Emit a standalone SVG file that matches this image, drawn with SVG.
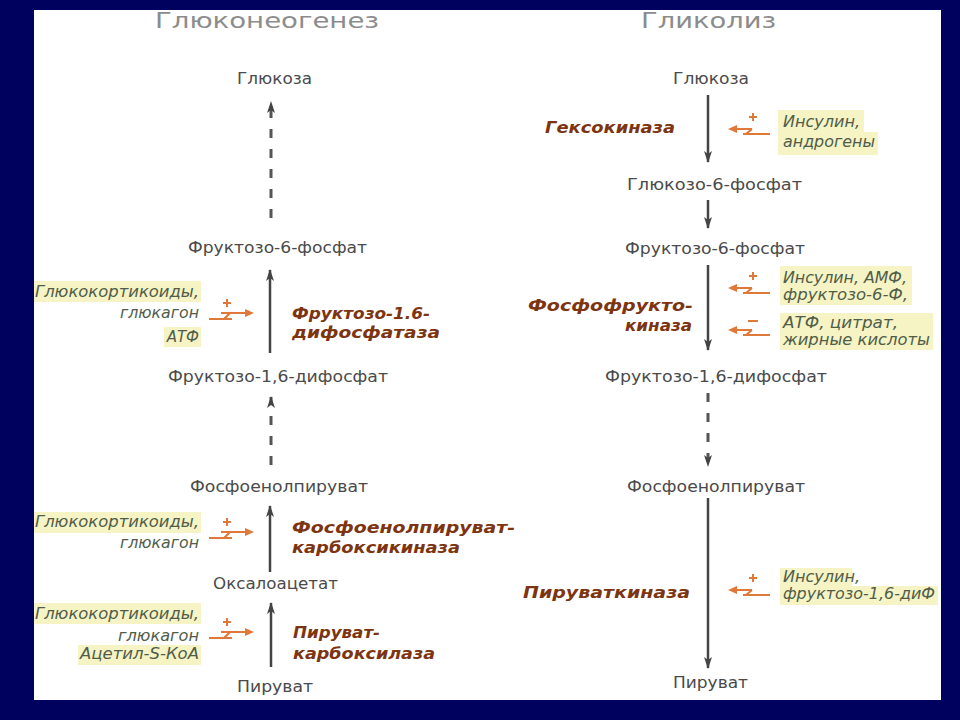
<svg xmlns="http://www.w3.org/2000/svg" width="960" height="720" viewBox="0 0 960 720">
<style>
.title{font-family:"DejaVu Sans","Liberation Sans",sans-serif;font-size:22px;fill:#8c8c8c}
.node{font-family:"DejaVu Sans","Liberation Sans",sans-serif;font-size:16px;fill:#4a4a4a}
.enz{font-family:"DejaVu Sans","Liberation Sans",sans-serif;font-size:16px;font-weight:bold;font-style:italic;fill:#7d3410}
.reg{font-family:"DejaVu Sans","Liberation Sans",sans-serif;font-size:15px;font-style:italic;fill:#4f5d4a}
.hl{fill:#f6f3c4}
.solid{stroke:#444;stroke-width:2.5;fill:none}
.dash{stroke:#555;stroke-width:3;fill:none;stroke-dasharray:9 11}
.sym{stroke:#e0783a;stroke-width:2;fill:none}
.symf{fill:#e0783a}
</style>
<defs>
<marker id="ah" viewBox="0 0 12 8" refX="11" refY="4" markerWidth="12" markerHeight="8" markerUnits="userSpaceOnUse" orient="auto">
<path d="M0,0 L12,4 L0,8 L3,4 z" fill="#444"/>
</marker>
<g id="actR">
<path class="sym" d="M0,16 H23 M15,16 L21,10 M12,10 H38 M14,0 H22 M18,-4 V4"/>
<path class="symf" d="M36,6 L45,10 L36,14 z"/>
</g>
<g id="actL">
<path class="sym" d="M7,0 H24 M24,0 L18,5 M15,5 H42 M21,-12 H29 M25,-16 V-8"/>
<path class="symf" d="M0,0 L9,-4 L9,4 z"/>
</g>
<g id="inhL">
<path class="sym" d="M7,0 H24 M24,0 L18,5 M15,5 H42 M20,-9 H30"/>
<path class="symf" d="M0,0 L9,-4 L9,4 z"/>
</g>
</defs>
<rect x="0" y="0" width="960" height="720" fill="#00005e"/>
<rect x="34" y="10" width="907" height="690" fill="#ffffff"/>

<g id="titles">
<text class="title" x="155" y="28" textLength="224" lengthAdjust="spacingAndGlyphs">Глюконеогенез</text>
<text class="title" x="641" y="28" textLength="135" lengthAdjust="spacingAndGlyphs">Гликолиз</text>
</g>

<g id="connectors">
<line class="dash" x1="271" y1="218" x2="271" y2="102" marker-end="url(#ah)"/>
<line class="solid" x1="270" y1="353" x2="270" y2="270" marker-end="url(#ah)"/>
<line class="dash" x1="271" y1="465" x2="271" y2="397" marker-end="url(#ah)"/>
<line class="solid" x1="270" y1="572" x2="270" y2="506" marker-end="url(#ah)"/>
<line class="solid" x1="271" y1="667" x2="271" y2="603" marker-end="url(#ah)"/>
<line class="solid" x1="708" y1="95" x2="708" y2="162" marker-end="url(#ah)"/>
<line class="solid" x1="708" y1="200" x2="708" y2="228" marker-end="url(#ah)"/>
<line class="solid" x1="708" y1="265" x2="708" y2="350" marker-end="url(#ah)"/>
<line class="dash" x1="708" y1="393" x2="708" y2="466" marker-end="url(#ah)"/>
<line class="solid" x1="708" y1="498" x2="708" y2="668" marker-end="url(#ah)"/>
</g>

<g id="gng-glucose"><text class="node" x="237" y="84" textLength="75" lengthAdjust="spacingAndGlyphs">Глюкоза</text></g>
<g id="gng-f6p"><text class="node" x="188" y="253" textLength="179" lengthAdjust="spacingAndGlyphs">Фруктозо-6-фосфат</text></g>
<g id="gng-f16bp"><text class="node" x="168" y="382" textLength="220" lengthAdjust="spacingAndGlyphs">Фруктозо-1,6-дифосфат</text></g>
<g id="gng-pep"><text class="node" x="190" y="492" textLength="178" lengthAdjust="spacingAndGlyphs">Фосфоенолпируват</text></g>
<g id="gng-oaa"><text class="node" x="213" y="589" textLength="125" lengthAdjust="spacingAndGlyphs">Оксалоацетат</text></g>
<g id="gng-pyr"><text class="node" x="237" y="692" textLength="76" lengthAdjust="spacingAndGlyphs">Пируват</text></g>

<g id="gly-glucose"><text class="node" x="673" y="84" textLength="76" lengthAdjust="spacingAndGlyphs">Глюкоза</text></g>
<g id="gly-g6p"><text class="node" x="627" y="190" textLength="175" lengthAdjust="spacingAndGlyphs">Глюкозо-6-фосфат</text></g>
<g id="gly-f6p"><text class="node" x="625" y="254" textLength="180" lengthAdjust="spacingAndGlyphs">Фруктозо-6-фосфат</text></g>
<g id="gly-f16bp"><text class="node" x="605" y="382" textLength="222" lengthAdjust="spacingAndGlyphs">Фруктозо-1,6-дифосфат</text></g>
<g id="gly-pep"><text class="node" x="627" y="492" textLength="178" lengthAdjust="spacingAndGlyphs">Фосфоенолпируват</text></g>
<g id="gly-pyr"><text class="node" x="673" y="688" textLength="75" lengthAdjust="spacingAndGlyphs">Пируват</text></g>

<g id="enz-fbpase">
<text class="enz" x="292" y="319" textLength="138" lengthAdjust="spacingAndGlyphs">Фруктозо-1.6-</text>
<text class="enz" x="292" y="338" textLength="148" lengthAdjust="spacingAndGlyphs">дифосфатаза</text>
</g>
<g id="enz-pepck">
<text class="enz" x="292" y="533" textLength="223" lengthAdjust="spacingAndGlyphs">Фосфоенолпируват-</text>
<text class="enz" x="292" y="553" textLength="168" lengthAdjust="spacingAndGlyphs">карбоксикиназа</text>
</g>
<g id="enz-pc">
<text class="enz" x="293" y="638" textLength="87" lengthAdjust="spacingAndGlyphs">Пируват-</text>
<text class="enz" x="293" y="659" textLength="142" lengthAdjust="spacingAndGlyphs">карбоксилаза</text>
</g>
<g id="enz-hk"><text class="enz" x="545" y="133" textLength="130" lengthAdjust="spacingAndGlyphs">Гексокиназа</text></g>
<g id="enz-pfk">
<text class="enz" x="528" y="311" textLength="165" lengthAdjust="spacingAndGlyphs">Фосфофрукто-</text>
<text class="enz" x="625" y="331" textLength="67" lengthAdjust="spacingAndGlyphs">киназа</text>
</g>
<g id="enz-pk"><text class="enz" x="523" y="598" textLength="167" lengthAdjust="spacingAndGlyphs">Пируваткиназа</text></g>

<g id="reg-fbpase">
<rect class="hl" x="34" y="281" width="167" height="21"/>
<rect class="hl" x="164" y="327" width="37" height="20"/>
<text class="reg" x="35" y="297" textLength="164" lengthAdjust="spacingAndGlyphs">Глюкокортикоиды,</text>
<text class="reg" x="120" y="318" textLength="79" lengthAdjust="spacingAndGlyphs">глюкагон</text>
<text class="reg" x="199" y="342" text-anchor="end">АТФ</text>
<use href="#actR" x="209" y="303"/>
</g>
<g id="reg-pepck">
<rect class="hl" x="34" y="512" width="167" height="21"/>
<text class="reg" x="35" y="527" textLength="164" lengthAdjust="spacingAndGlyphs">Глюкокортикоиды,</text>
<text class="reg" x="120" y="548" textLength="79" lengthAdjust="spacingAndGlyphs">глюкагон</text>
<use href="#actR" x="209" y="522"/>
</g>
<g id="reg-pc">
<rect class="hl" x="34" y="603" width="167" height="21"/>
<rect class="hl" x="78" y="645" width="123" height="20"/>
<text class="reg" x="35" y="619" textLength="164" lengthAdjust="spacingAndGlyphs">Глюкокортикоиды,</text>
<text class="reg" x="118" y="641" textLength="81" lengthAdjust="spacingAndGlyphs">глюкагон</text>
<text class="reg" x="80" y="659" textLength="119" lengthAdjust="spacingAndGlyphs">Ацетил-S-КоА</text>
<use href="#actR" x="209" y="622"/>
</g>
<g id="reg-hk">
<path class="hl" d="M778,110 H864 V132 H878 V155 H778 Z"/>
<text class="reg" x="783" y="127" textLength="77" lengthAdjust="spacingAndGlyphs">Инсулин,</text>
<text class="reg" x="783" y="147" textLength="92" lengthAdjust="spacingAndGlyphs">андрогены</text>
<use href="#actL" x="728" y="129"/>
</g>
<g id="reg-pfk-act">
<path class="hl" d="M780,266 H912 V305 H780 Z"/>
<text class="reg" x="783" y="283" textLength="124" lengthAdjust="spacingAndGlyphs">Инсулин, АМФ,</text>
<text class="reg" x="783" y="300" textLength="125" lengthAdjust="spacingAndGlyphs">фруктозо-6-Ф,</text>
<use href="#actL" x="728" y="288"/>
</g>
<g id="reg-pfk-inh">
<path class="hl" d="M780,313 H933 V350 H780 Z"/>
<text class="reg" x="783" y="328" textLength="115" lengthAdjust="spacingAndGlyphs">АТФ, цитрат,</text>
<text class="reg" x="783" y="345" textLength="147" lengthAdjust="spacingAndGlyphs">жирные кислоты</text>
<use href="#inhL" x="728" y="330"/>
</g>
<g id="reg-pk">
<path class="hl" d="M780,568 H852 V586 H938 V605 H780 Z"/>
<text class="reg" x="783" y="582" textLength="77" lengthAdjust="spacingAndGlyphs">Инсулин,</text>
<text class="reg" x="783" y="599" textLength="152" lengthAdjust="spacingAndGlyphs">фруктозо-1,6-диФ</text>
<use href="#actL" x="728" y="590"/>
</g>
</svg>
